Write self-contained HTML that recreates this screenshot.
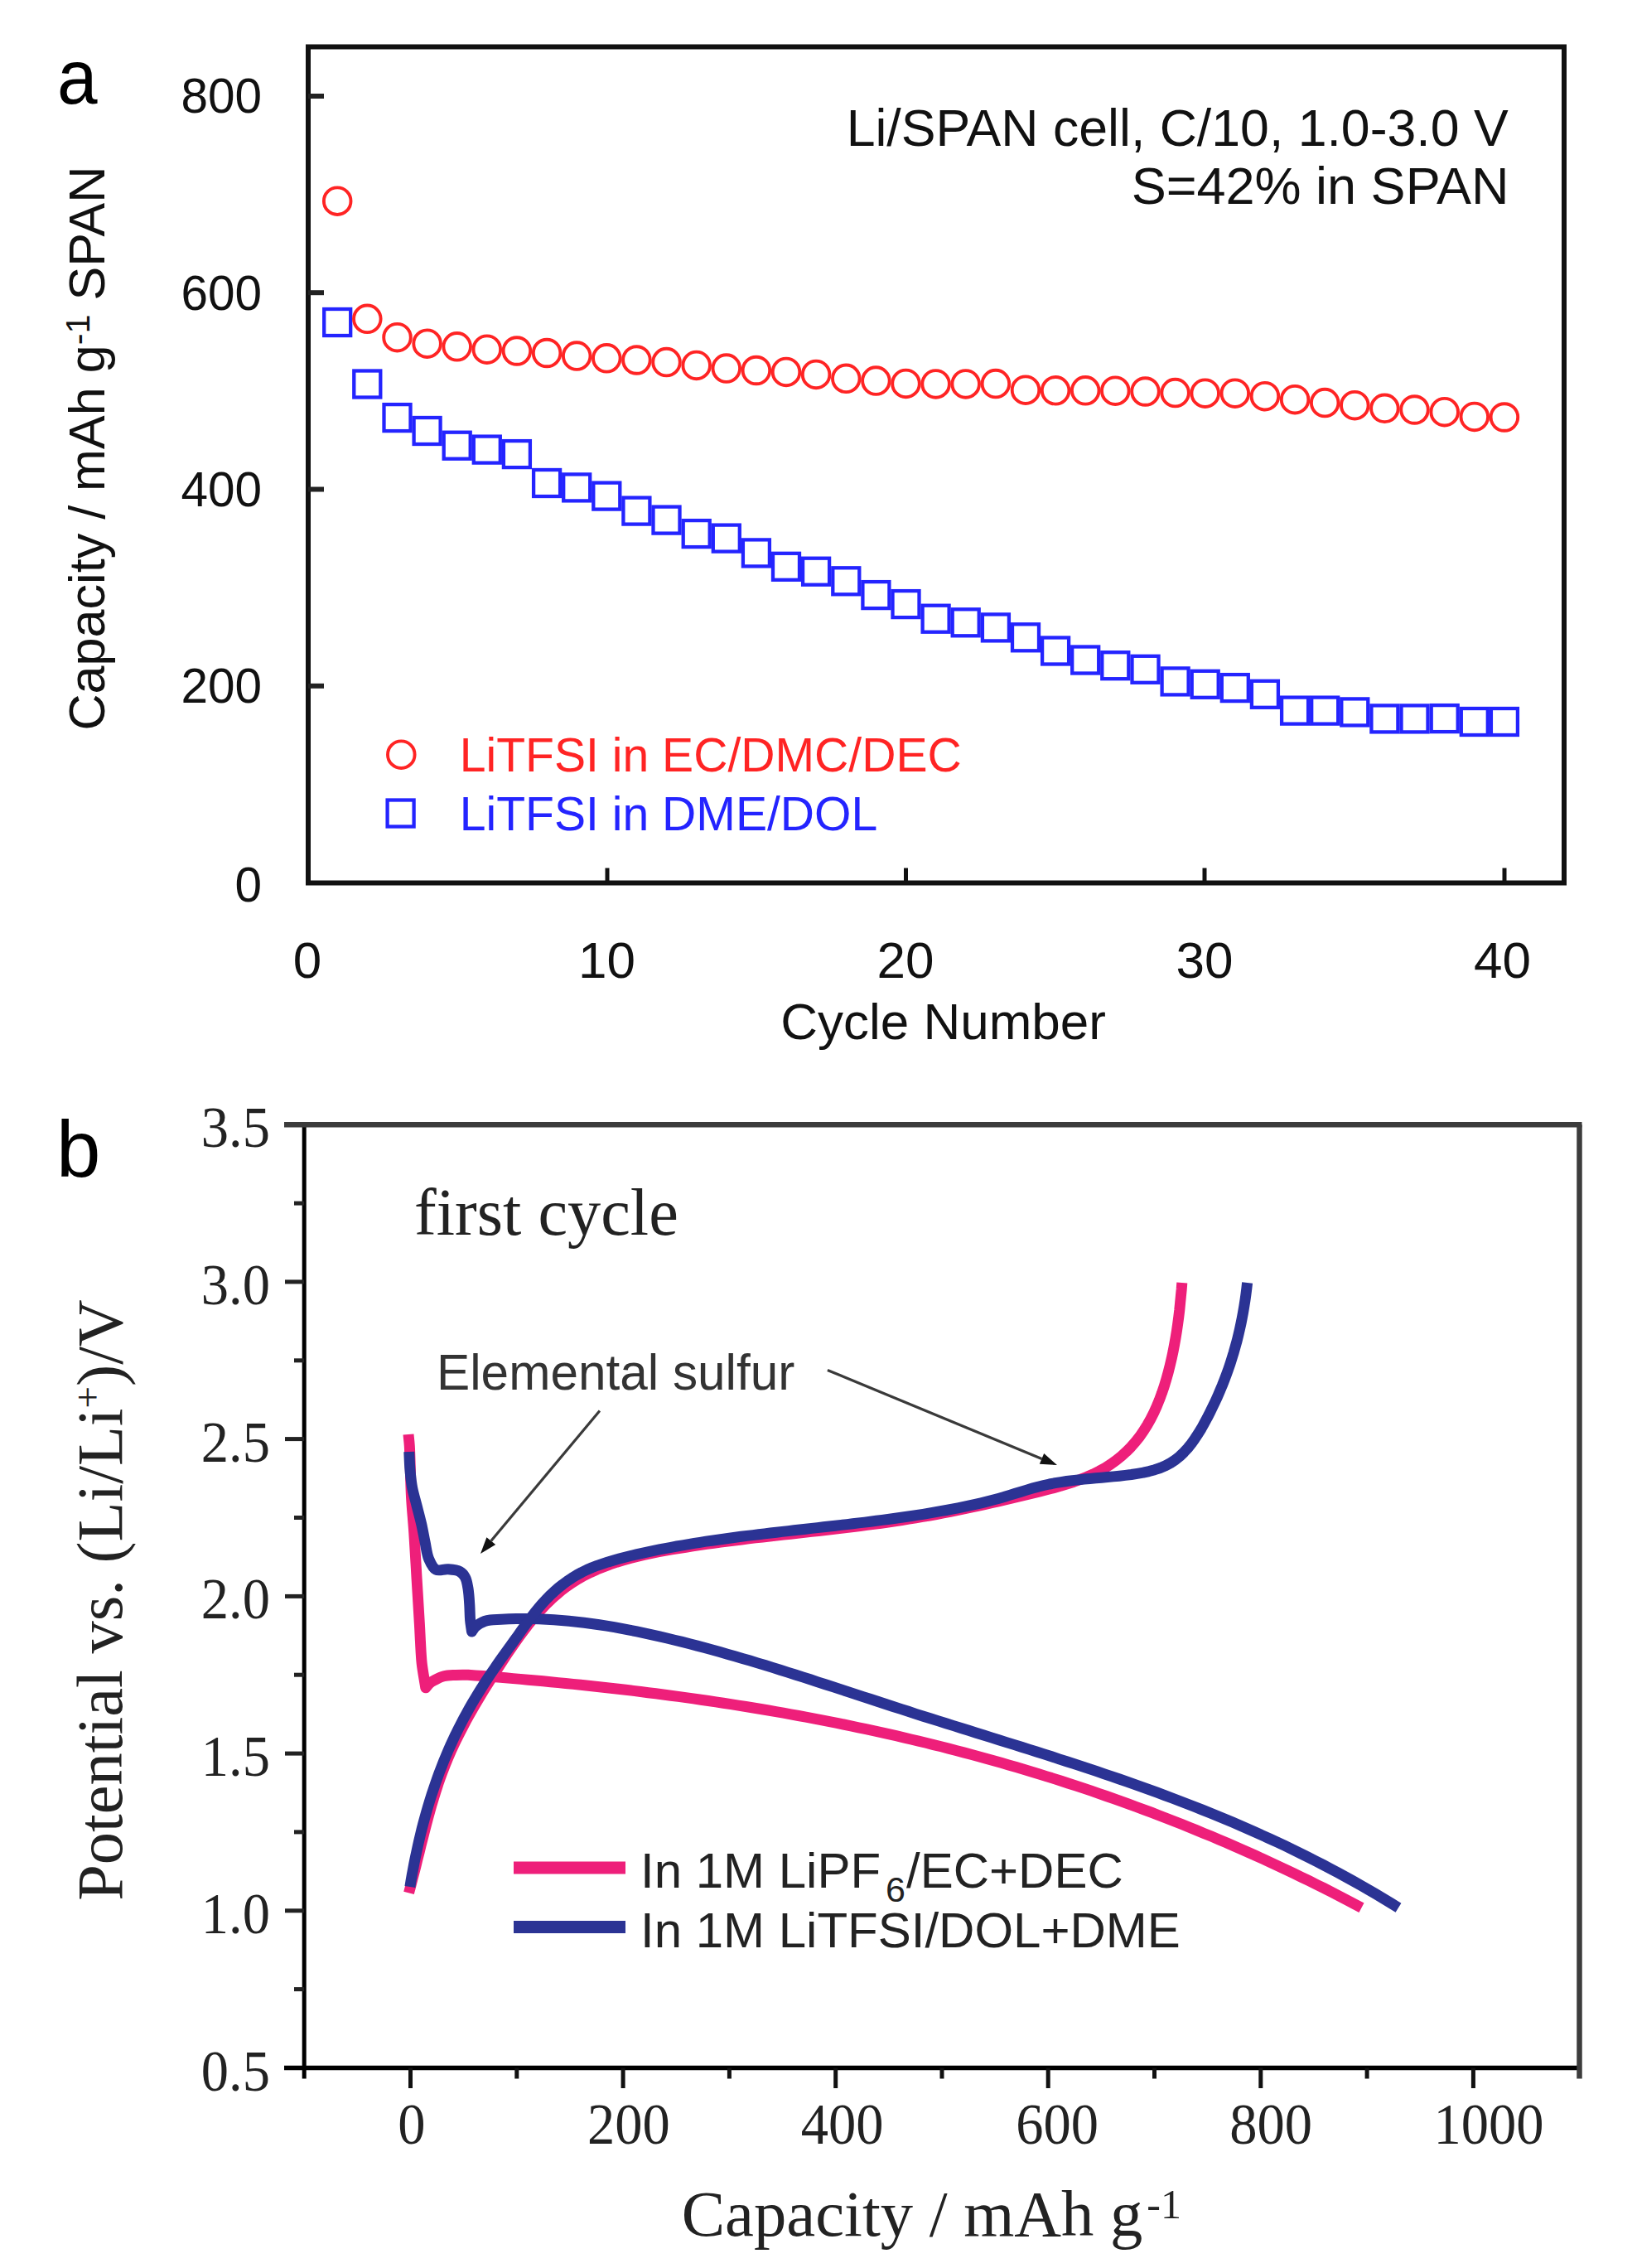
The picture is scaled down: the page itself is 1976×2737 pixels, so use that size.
<!DOCTYPE html>
<html><head><meta charset="utf-8"><title>Figure</title>
<style>
html,body{margin:0;padding:0;background:#fff;}
svg{display:block;}
</style></head>
<body>
<svg width="1976" height="2737" viewBox="0 0 1976 2737">
<rect width="1976" height="2737" fill="#fff"/>
<rect x="372" y="56.5" width="1516" height="1009.0" fill="none" stroke="#111" stroke-width="6"/>
<line x1="372" y1="827.8" x2="391" y2="827.8" stroke="#222" stroke-width="6"/>
<line x1="372" y1="590.5" x2="391" y2="590.5" stroke="#222" stroke-width="6"/>
<line x1="372" y1="353.2" x2="391" y2="353.2" stroke="#222" stroke-width="6"/>
<line x1="372" y1="116.0" x2="391" y2="116.0" stroke="#222" stroke-width="6"/>
<line x1="733" y1="1065.5" x2="733" y2="1047.5" stroke="#111" stroke-width="5"/>
<line x1="1093.5" y1="1065.5" x2="1093.5" y2="1047.5" stroke="#111" stroke-width="5"/>
<line x1="1454" y1="1065.5" x2="1454" y2="1047.5" stroke="#111" stroke-width="5"/>
<line x1="1816" y1="1065.5" x2="1816" y2="1047.5" stroke="#111" stroke-width="5"/>
<text x="316" y="135.5" text-anchor="end" font-family="'Liberation Sans', Arial, sans-serif" font-size="58.5" fill="#111">800</text>
<text x="316" y="374.0" text-anchor="end" font-family="'Liberation Sans', Arial, sans-serif" font-size="58.5" fill="#111">600</text>
<text x="316" y="610.5" text-anchor="end" font-family="'Liberation Sans', Arial, sans-serif" font-size="58.5" fill="#111">400</text>
<text x="316" y="848.0" text-anchor="end" font-family="'Liberation Sans', Arial, sans-serif" font-size="58.5" fill="#111">200</text>
<text x="316" y="1088.0" text-anchor="end" font-family="'Liberation Sans', Arial, sans-serif" font-size="58.5" fill="#111">0</text>
<text x="371" y="1179.5" text-anchor="middle" font-family="'Liberation Sans', Arial, sans-serif" font-size="62" fill="#111">0</text>
<text x="732.5" y="1179.5" text-anchor="middle" font-family="'Liberation Sans', Arial, sans-serif" font-size="62" fill="#111">10</text>
<text x="1093" y="1179.5" text-anchor="middle" font-family="'Liberation Sans', Arial, sans-serif" font-size="62" fill="#111">20</text>
<text x="1454" y="1179.5" text-anchor="middle" font-family="'Liberation Sans', Arial, sans-serif" font-size="62" fill="#111">30</text>
<text x="1813.5" y="1179.5" text-anchor="middle" font-family="'Liberation Sans', Arial, sans-serif" font-size="62" fill="#111">40</text>
<text x="942.2" y="1253.6" font-family="'Liberation Sans', Arial, sans-serif" font-size="62" fill="#111">Cycle Number</text>
<text transform="translate(125.6,881.5) rotate(-90)" x="0" y="0" font-family="'Liberation Sans', Arial, sans-serif" font-size="61.1" fill="#111">Capacity / mAh g<tspan font-size="41.5" dy="-18">-1</tspan><tspan dy="18"> SPAN</tspan></text>
<text x="1820.7" y="175.5" text-anchor="end" font-family="'Liberation Sans', Arial, sans-serif" font-size="62.6" fill="#111">Li/SPAN cell, C/10, 1.0-3.0 V</text>
<text x="1821.5" y="245.5" text-anchor="end" font-family="'Liberation Sans', Arial, sans-serif" font-size="63" fill="#111">S=42% in SPAN</text>
<text transform="translate(69,125) scale(0.95,1)" x="0" y="0" font-family="'Liberation Sans', Arial, sans-serif" font-size="92" fill="#000">a</text>
<circle cx="484.3" cy="910.7" r="16.3" fill="none" stroke="#ff2424" stroke-width="3.9"/>
<rect x="467.6" y="965.5" width="32" height="32" fill="none" stroke="#2424ff" stroke-width="4.3"/>
<text x="554.8" y="931" font-family="'Liberation Sans', Arial, sans-serif" font-size="57.1" fill="#ff2424">LiTFSI in EC/DMC/DEC</text>
<text x="554.8" y="1002" font-family="'Liberation Sans', Arial, sans-serif" font-size="57.1" fill="#2424ff">LiTFSI in DME/DOL</text>
<rect x="391.2" y="373.0" width="32" height="32" fill="none" stroke="#2424ff" stroke-width="4.3"/>
<rect x="427.3" y="447.5" width="32" height="32" fill="none" stroke="#2424ff" stroke-width="4.3"/>
<rect x="463.5" y="488.1" width="32" height="32" fill="none" stroke="#2424ff" stroke-width="4.3"/>
<rect x="499.6" y="504.0" width="32" height="32" fill="none" stroke="#2424ff" stroke-width="4.3"/>
<rect x="535.7" y="521.7" width="32" height="32" fill="none" stroke="#2424ff" stroke-width="4.3"/>
<rect x="571.8" y="526.6" width="32" height="32" fill="none" stroke="#2424ff" stroke-width="4.3"/>
<rect x="607.9" y="532.1" width="32" height="32" fill="none" stroke="#2424ff" stroke-width="4.3"/>
<rect x="644.1" y="567.0" width="32" height="32" fill="none" stroke="#2424ff" stroke-width="4.3"/>
<rect x="680.2" y="572.4" width="32" height="32" fill="none" stroke="#2424ff" stroke-width="4.3"/>
<rect x="716.3" y="582.6" width="32" height="32" fill="none" stroke="#2424ff" stroke-width="4.3"/>
<rect x="752.4" y="600.6" width="32" height="32" fill="none" stroke="#2424ff" stroke-width="4.3"/>
<rect x="788.5" y="611.6" width="32" height="32" fill="none" stroke="#2424ff" stroke-width="4.3"/>
<rect x="824.7" y="628.1" width="32" height="32" fill="none" stroke="#2424ff" stroke-width="4.3"/>
<rect x="860.8" y="633.6" width="32" height="32" fill="none" stroke="#2424ff" stroke-width="4.3"/>
<rect x="896.9" y="651.4" width="32" height="32" fill="none" stroke="#2424ff" stroke-width="4.3"/>
<rect x="933.0" y="667.8" width="32" height="32" fill="none" stroke="#2424ff" stroke-width="4.3"/>
<rect x="969.1" y="673.7" width="32" height="32" fill="none" stroke="#2424ff" stroke-width="4.3"/>
<rect x="1005.3" y="685.3" width="32" height="32" fill="none" stroke="#2424ff" stroke-width="4.3"/>
<rect x="1041.4" y="702.1" width="32" height="32" fill="none" stroke="#2424ff" stroke-width="4.3"/>
<rect x="1077.5" y="713.1" width="32" height="32" fill="none" stroke="#2424ff" stroke-width="4.3"/>
<rect x="1113.6" y="730.7" width="32" height="32" fill="none" stroke="#2424ff" stroke-width="4.3"/>
<rect x="1149.7" y="735.3" width="32" height="32" fill="none" stroke="#2424ff" stroke-width="4.3"/>
<rect x="1185.9" y="741.4" width="32" height="32" fill="none" stroke="#2424ff" stroke-width="4.3"/>
<rect x="1222.0" y="753.3" width="32" height="32" fill="none" stroke="#2424ff" stroke-width="4.3"/>
<rect x="1258.1" y="769.5" width="32" height="32" fill="none" stroke="#2424ff" stroke-width="4.3"/>
<rect x="1294.2" y="780.5" width="32" height="32" fill="none" stroke="#2424ff" stroke-width="4.3"/>
<rect x="1330.3" y="787.2" width="32" height="32" fill="none" stroke="#2424ff" stroke-width="4.3"/>
<rect x="1366.5" y="791.8" width="32" height="32" fill="none" stroke="#2424ff" stroke-width="4.3"/>
<rect x="1402.6" y="806.4" width="32" height="32" fill="none" stroke="#2424ff" stroke-width="4.3"/>
<rect x="1438.7" y="809.8" width="32" height="32" fill="none" stroke="#2424ff" stroke-width="4.3"/>
<rect x="1474.8" y="814.1" width="32" height="32" fill="none" stroke="#2424ff" stroke-width="4.3"/>
<rect x="1510.9" y="821.8" width="32" height="32" fill="none" stroke="#2424ff" stroke-width="4.3"/>
<rect x="1547.1" y="841.6" width="32" height="32" fill="none" stroke="#2424ff" stroke-width="4.3"/>
<rect x="1583.2" y="841.6" width="32" height="32" fill="none" stroke="#2424ff" stroke-width="4.3"/>
<rect x="1619.3" y="843.4" width="32" height="32" fill="none" stroke="#2424ff" stroke-width="4.3"/>
<rect x="1655.4" y="851.4" width="32" height="32" fill="none" stroke="#2424ff" stroke-width="4.3"/>
<rect x="1691.5" y="851.4" width="32" height="32" fill="none" stroke="#2424ff" stroke-width="4.3"/>
<rect x="1727.7" y="851.1" width="32" height="32" fill="none" stroke="#2424ff" stroke-width="4.3"/>
<rect x="1763.8" y="855.0" width="32" height="32" fill="none" stroke="#2424ff" stroke-width="4.3"/>
<rect x="1799.9" y="855.0" width="32" height="32" fill="none" stroke="#2424ff" stroke-width="4.3"/>
<circle cx="407.2" cy="242.7" r="16.3" fill="none" stroke="#ff2424" stroke-width="3.9"/>
<circle cx="443.3" cy="384.8" r="16.3" fill="none" stroke="#ff2424" stroke-width="3.9"/>
<circle cx="479.5" cy="407.2" r="16.3" fill="none" stroke="#ff2424" stroke-width="3.9"/>
<circle cx="515.6" cy="414.7" r="16.3" fill="none" stroke="#ff2424" stroke-width="3.9"/>
<circle cx="551.7" cy="418.3" r="16.3" fill="none" stroke="#ff2424" stroke-width="3.9"/>
<circle cx="587.8" cy="421.7" r="16.3" fill="none" stroke="#ff2424" stroke-width="3.9"/>
<circle cx="623.9" cy="423.5" r="16.3" fill="none" stroke="#ff2424" stroke-width="3.9"/>
<circle cx="660.1" cy="426.0" r="16.3" fill="none" stroke="#ff2424" stroke-width="3.9"/>
<circle cx="696.2" cy="429.6" r="16.3" fill="none" stroke="#ff2424" stroke-width="3.9"/>
<circle cx="732.3" cy="432.3" r="16.3" fill="none" stroke="#ff2424" stroke-width="3.9"/>
<circle cx="768.4" cy="434.5" r="16.3" fill="none" stroke="#ff2424" stroke-width="3.9"/>
<circle cx="804.5" cy="437.1" r="16.3" fill="none" stroke="#ff2424" stroke-width="3.9"/>
<circle cx="840.7" cy="440.9" r="16.3" fill="none" stroke="#ff2424" stroke-width="3.9"/>
<circle cx="876.8" cy="444.6" r="16.3" fill="none" stroke="#ff2424" stroke-width="3.9"/>
<circle cx="912.9" cy="447.0" r="16.3" fill="none" stroke="#ff2424" stroke-width="3.9"/>
<circle cx="949.0" cy="448.9" r="16.3" fill="none" stroke="#ff2424" stroke-width="3.9"/>
<circle cx="985.1" cy="451.9" r="16.3" fill="none" stroke="#ff2424" stroke-width="3.9"/>
<circle cx="1021.3" cy="456.8" r="16.3" fill="none" stroke="#ff2424" stroke-width="3.9"/>
<circle cx="1057.4" cy="459.6" r="16.3" fill="none" stroke="#ff2424" stroke-width="3.9"/>
<circle cx="1093.5" cy="462.9" r="16.3" fill="none" stroke="#ff2424" stroke-width="3.9"/>
<circle cx="1129.6" cy="463.4" r="16.3" fill="none" stroke="#ff2424" stroke-width="3.9"/>
<circle cx="1165.7" cy="463.4" r="16.3" fill="none" stroke="#ff2424" stroke-width="3.9"/>
<circle cx="1201.9" cy="463.1" r="16.3" fill="none" stroke="#ff2424" stroke-width="3.9"/>
<circle cx="1238.0" cy="470.7" r="16.3" fill="none" stroke="#ff2424" stroke-width="3.9"/>
<circle cx="1274.1" cy="471.3" r="16.3" fill="none" stroke="#ff2424" stroke-width="3.9"/>
<circle cx="1310.2" cy="471.3" r="16.3" fill="none" stroke="#ff2424" stroke-width="3.9"/>
<circle cx="1346.3" cy="471.7" r="16.3" fill="none" stroke="#ff2424" stroke-width="3.9"/>
<circle cx="1382.5" cy="472.5" r="16.3" fill="none" stroke="#ff2424" stroke-width="3.9"/>
<circle cx="1418.6" cy="474.1" r="16.3" fill="none" stroke="#ff2424" stroke-width="3.9"/>
<circle cx="1454.7" cy="474.7" r="16.3" fill="none" stroke="#ff2424" stroke-width="3.9"/>
<circle cx="1490.8" cy="474.7" r="16.3" fill="none" stroke="#ff2424" stroke-width="3.9"/>
<circle cx="1526.9" cy="478.2" r="16.3" fill="none" stroke="#ff2424" stroke-width="3.9"/>
<circle cx="1563.1" cy="482.2" r="16.3" fill="none" stroke="#ff2424" stroke-width="3.9"/>
<circle cx="1599.2" cy="486.1" r="16.3" fill="none" stroke="#ff2424" stroke-width="3.9"/>
<circle cx="1635.3" cy="489.2" r="16.3" fill="none" stroke="#ff2424" stroke-width="3.9"/>
<circle cx="1671.4" cy="492.8" r="16.3" fill="none" stroke="#ff2424" stroke-width="3.9"/>
<circle cx="1707.5" cy="494.5" r="16.3" fill="none" stroke="#ff2424" stroke-width="3.9"/>
<circle cx="1743.7" cy="497.2" r="16.3" fill="none" stroke="#ff2424" stroke-width="3.9"/>
<circle cx="1779.8" cy="502.9" r="16.3" fill="none" stroke="#ff2424" stroke-width="3.9"/>
<circle cx="1815.9" cy="503.5" r="16.3" fill="none" stroke="#ff2424" stroke-width="3.9"/>
<line x1="367.2" y1="1357.3" x2="367.2" y2="2508.5" stroke="#000" stroke-width="5"/>
<line x1="343" y1="2495.6" x2="1906.5" y2="2495.6" stroke="#000" stroke-width="5.5"/>
<line x1="343" y1="1357.3" x2="1909.5" y2="1357.3" stroke="#3c3c3c" stroke-width="6.5"/>
<line x1="1906.5" y1="1357.3" x2="1906.5" y2="2508.5" stroke="#3c3c3c" stroke-width="6.5"/>
<line x1="355" y1="2400.6" x2="367.2" y2="2400.6" stroke="#222" stroke-width="5"/>
<line x1="344" y1="2305.8" x2="367.2" y2="2305.8" stroke="#222" stroke-width="5"/>
<line x1="355" y1="2210.9" x2="367.2" y2="2210.9" stroke="#222" stroke-width="5"/>
<line x1="344" y1="2116.1" x2="367.2" y2="2116.1" stroke="#222" stroke-width="5"/>
<line x1="355" y1="2021.2" x2="367.2" y2="2021.2" stroke="#222" stroke-width="5"/>
<line x1="344" y1="1926.4" x2="367.2" y2="1926.4" stroke="#222" stroke-width="5"/>
<line x1="355" y1="1831.5" x2="367.2" y2="1831.5" stroke="#222" stroke-width="5"/>
<line x1="344" y1="1736.6" x2="367.2" y2="1736.6" stroke="#222" stroke-width="5"/>
<line x1="355" y1="1641.8" x2="367.2" y2="1641.8" stroke="#222" stroke-width="5"/>
<line x1="344" y1="1546.9" x2="367.2" y2="1546.9" stroke="#222" stroke-width="5"/>
<line x1="355" y1="1452.1" x2="367.2" y2="1452.1" stroke="#222" stroke-width="5"/>
<line x1="495.5" y1="2495.6" x2="495.5" y2="2520" stroke="#111" stroke-width="5"/>
<line x1="623.8" y1="2495.6" x2="623.8" y2="2508.5" stroke="#111" stroke-width="5"/>
<line x1="752.1" y1="2495.6" x2="752.1" y2="2520" stroke="#111" stroke-width="5"/>
<line x1="880.4" y1="2495.6" x2="880.4" y2="2508.5" stroke="#111" stroke-width="5"/>
<line x1="1008.7" y1="2495.6" x2="1008.7" y2="2520" stroke="#111" stroke-width="5"/>
<line x1="1137.0" y1="2495.6" x2="1137.0" y2="2508.5" stroke="#111" stroke-width="5"/>
<line x1="1265.2" y1="2495.6" x2="1265.2" y2="2520" stroke="#111" stroke-width="5"/>
<line x1="1393.5" y1="2495.6" x2="1393.5" y2="2508.5" stroke="#111" stroke-width="5"/>
<line x1="1521.8" y1="2495.6" x2="1521.8" y2="2520" stroke="#111" stroke-width="5"/>
<line x1="1650.1" y1="2495.6" x2="1650.1" y2="2508.5" stroke="#111" stroke-width="5"/>
<line x1="1778.4" y1="2495.6" x2="1778.4" y2="2520" stroke="#111" stroke-width="5"/>
<text transform="translate(326,2522.5) scale(1,1.06)" text-anchor="end" font-family="'Liberation Serif', 'Times New Roman', serif" font-size="66.5" fill="#222">0.5</text>
<text transform="translate(326,2332.8) scale(1,1.06)" text-anchor="end" font-family="'Liberation Serif', 'Times New Roman', serif" font-size="66.5" fill="#222">1.0</text>
<text transform="translate(326,2143.1) scale(1,1.06)" text-anchor="end" font-family="'Liberation Serif', 'Times New Roman', serif" font-size="66.5" fill="#222">1.5</text>
<text transform="translate(326,1953.4) scale(1,1.06)" text-anchor="end" font-family="'Liberation Serif', 'Times New Roman', serif" font-size="66.5" fill="#222">2.0</text>
<text transform="translate(326,1763.6) scale(1,1.06)" text-anchor="end" font-family="'Liberation Serif', 'Times New Roman', serif" font-size="66.5" fill="#222">2.5</text>
<text transform="translate(326,1573.9) scale(1,1.06)" text-anchor="end" font-family="'Liberation Serif', 'Times New Roman', serif" font-size="66.5" fill="#222">3.0</text>
<text transform="translate(326,1384.2) scale(1,1.06)" text-anchor="end" font-family="'Liberation Serif', 'Times New Roman', serif" font-size="66.5" fill="#222">3.5</text>
<text transform="translate(480.2,2587) scale(1,1.06)" font-family="'Liberation Serif', 'Times New Roman', serif" font-size="66.5" fill="#222">0</text>
<text transform="translate(708.9,2587) scale(1,1.06)" font-family="'Liberation Serif', 'Times New Roman', serif" font-size="66.5" fill="#222">200</text>
<text transform="translate(966.7,2587) scale(1,1.06)" font-family="'Liberation Serif', 'Times New Roman', serif" font-size="66.5" fill="#222">400</text>
<text transform="translate(1226.3,2587) scale(1,1.06)" font-family="'Liberation Serif', 'Times New Roman', serif" font-size="66.5" fill="#222">600</text>
<text transform="translate(1484.2,2587) scale(1,1.06)" font-family="'Liberation Serif', 'Times New Roman', serif" font-size="66.5" fill="#222">800</text>
<text transform="translate(1730.5,2587) scale(1,1.06)" font-family="'Liberation Serif', 'Times New Roman', serif" font-size="66.5" fill="#222">1000</text>
<text x="822.7" y="2698.2" font-family="'Liberation Serif', 'Times New Roman', serif" font-size="78.6" fill="#222">Capacity / mAh g<tspan font-size="50" dx="5" dy="-21.5">-1</tspan></text>
<text transform="translate(147,2293.8) rotate(-90)" x="0" y="0" font-family="'Liberation Serif', 'Times New Roman', serif" font-size="78.4" fill="#222">Potential vs. (Li/Li<tspan font-size="47" dy="-26">+</tspan><tspan dy="26">)/V</tspan></text>
<text x="500" y="1490.2" font-family="'Liberation Serif', 'Times New Roman', serif" font-size="80.3" fill="#222">first cycle</text>
<text x="68" y="1420" font-family="'Liberation Sans', Arial, sans-serif" font-size="96" fill="#000">b</text>
<text x="527" y="1677.2" font-family="'Liberation Sans', Arial, sans-serif" font-size="60.3" fill="#333">Elemental sulfur</text>
<path d="M493.0,1731.0 C493.4,1735.7 493.9,1738.7 494.3,1745.0 C495.1,1758.2 495.5,1787.4 496.5,1806.1 C497.4,1822.0 498.8,1834.7 499.8,1850.2 C501.0,1867.5 502.0,1886.9 503.1,1905.3 C504.2,1923.7 505.6,1946.7 506.4,1960.4 C506.9,1968.6 507.0,1972.9 507.4,1980.0 C507.9,1988.4 508.2,1998.2 509.2,2007.5 C510.3,2017.1 512.3,2027.0 513.8,2036.8 L513.8,2036.8 C515.5,2034.9 517.1,2032.6 519.0,2031.0 C520.8,2029.5 522.5,2028.8 524.8,2027.6 C527.8,2026.0 531.8,2023.8 535.8,2022.8 C540.1,2021.7 545.1,2021.7 549.9,2021.4 C554.8,2021.1 560.0,2021.3 565.0,2021.2 L574.1,2021.9 L583.1,2022.6 L592.2,2023.3 L601.3,2024.0 L610.3,2024.8 L619.4,2025.6 L628.4,2026.4 L637.5,2027.2 L646.6,2028.0 L655.6,2028.8 L664.7,2029.7 L673.8,2030.6 L682.8,2031.5 L691.9,2032.4 L700.9,2033.3 L710.0,2034.3 L719.1,2035.2 L728.1,2036.2 L737.2,2037.2 L746.3,2038.3 L755.3,2039.3 L764.4,2040.4 L773.4,2041.5 L782.5,2042.7 L791.6,2043.8 L800.6,2045.0 L809.7,2046.2 L818.8,2047.4 L827.8,2048.6 L836.9,2049.9 L846.0,2051.2 L855.0,2052.5 L864.1,2053.9 L873.1,2055.2 L882.2,2056.6 L891.3,2058.1 L900.3,2059.5 L909.4,2061.0 L918.5,2062.5 L927.5,2064.0 L936.6,2065.6 L945.6,2067.2 L954.7,2068.8 L963.8,2070.5 L972.8,2072.1 L981.9,2073.8 L991.0,2075.6 L1000.0,2077.4 L1009.1,2079.2 L1018.2,2081.0 L1027.2,2082.9 L1036.3,2084.8 L1045.3,2086.7 L1054.4,2088.6 L1063.5,2090.6 L1072.5,2092.7 L1081.6,2094.7 L1090.7,2096.8 L1099.7,2099.0 L1108.8,2101.1 L1117.8,2103.3 L1126.9,2105.6 L1136.0,2107.8 L1145.0,2110.1 L1154.1,2112.5 L1163.2,2114.9 L1172.2,2117.3 L1181.3,2119.7 L1190.3,2122.2 L1199.4,2124.8 L1208.5,2127.3 L1217.5,2129.9 L1226.6,2132.6 L1235.7,2135.3 L1244.7,2138.0 L1253.8,2140.7 L1262.9,2143.6 L1271.9,2146.4 L1281.0,2149.3 L1290.0,2152.2 L1299.1,2155.2 L1308.2,2158.2 L1317.2,2161.2 L1326.3,2164.3 L1335.4,2167.5 L1344.4,2170.7 L1353.5,2173.9 L1362.5,2177.2 L1371.6,2180.5 L1380.7,2183.8 L1389.7,2187.2 L1398.8,2190.7 L1407.9,2194.2 L1416.9,2197.7 L1426.0,2201.3 L1435.1,2205.0 L1444.1,2208.6 L1453.2,2212.4 L1462.2,2216.1 L1471.3,2220.0 L1480.4,2223.8 L1489.4,2227.8 L1498.5,2231.7 L1507.6,2235.8 L1516.6,2239.8 L1525.7,2243.9 L1534.7,2248.1 L1543.8,2252.3 L1552.9,2256.6 L1561.9,2260.9 L1571.0,2265.3 L1580.1,2269.7 L1589.1,2274.2 L1598.2,2278.7 L1607.2,2283.3 L1616.3,2288.0 L1625.4,2292.7 L1634.4,2297.4 L1643.5,2302.2" fill="none" stroke="#ee1f7a" stroke-width="13" stroke-linejoin="round"/>
<path d="M493.5,2284.4 L495.7,2276.3 L497.8,2268.2 L499.9,2260.1 L502.0,2251.9 L504.0,2243.6 L506.1,2235.4 L508.1,2227.1 L510.2,2218.8 L512.3,2210.6 L514.4,2202.3 L516.6,2194.0 L518.9,2185.8 L521.2,2177.6 L523.7,2169.4 L526.2,2161.3 L528.8,2153.2 L531.6,2145.2 L534.5,2137.3 L537.6,2129.4 L540.8,2121.6 L544.1,2113.9 L547.6,2106.3 L551.2,2098.7 L555.0,2091.2 L558.9,2083.7 L562.8,2076.3 L566.9,2068.9 L571.1,2061.6 L575.4,2054.3 L579.7,2047.0 L584.1,2039.7 L588.6,2032.5 L593.2,2025.3 L597.8,2018.1 L602.5,2010.9 L607.2,2003.7 L611.9,1996.5 L616.8,1989.3 L621.7,1982.2 L626.7,1975.2 L631.8,1968.3 L637.0,1961.5 L642.3,1954.9 L647.8,1948.4 L653.4,1942.2 L659.2,1936.1 L665.2,1930.3 L671.4,1924.7 L677.7,1919.3 L684.3,1914.3 L691.2,1909.6 L698.2,1905.3 L705.5,1901.2 L713.0,1897.5 L720.6,1894.0 L728.5,1890.9 L736.4,1887.9 L744.5,1885.2 L752.6,1882.8 L760.8,1880.5 L769.0,1878.4 L777.3,1876.4 L785.7,1874.6 L794.0,1872.9 L802.4,1871.4 L810.8,1869.9 L819.2,1868.5 L827.7,1867.2 L836.1,1865.9 L844.5,1864.6 L853.0,1863.4 L861.4,1862.3 L869.8,1861.1 L878.3,1860.0 L886.7,1859.0 L895.1,1858.0 L903.6,1856.9 L912.0,1855.9 L920.5,1855.0 L928.9,1854.0 L937.3,1853.1 L945.8,1852.1 L954.2,1851.2 L962.6,1850.3 L971.1,1849.3 L979.5,1848.4 L987.9,1847.5 L996.3,1846.5 L1004.7,1845.5 L1013.1,1844.6 L1021.5,1843.6 L1030.0,1842.5 L1038.3,1841.5 L1046.7,1840.4 L1055.1,1839.3 L1063.5,1838.2 L1071.9,1837.0 L1080.2,1835.8 L1088.6,1834.5 L1097.0,1833.2 L1105.3,1831.8 L1113.6,1830.4 L1122.0,1829.0 L1130.3,1827.5 L1138.6,1825.9 L1146.9,1824.3 L1155.2,1822.6 L1163.6,1820.9 L1171.9,1819.2 L1180.2,1817.4 L1188.5,1815.6 L1196.8,1813.7 L1205.1,1811.8 L1213.4,1809.9 L1221.8,1808.0 L1230.1,1806.0 L1238.5,1804.0 L1246.8,1801.9 L1255.2,1799.9 L1263.5,1797.8 L1271.8,1795.6 L1280.1,1793.3 L1288.3,1790.8 L1296.3,1788.2 L1304.2,1785.4 L1312.0,1782.3 L1319.5,1779.0 L1326.9,1775.3 L1334.0,1771.4 L1340.8,1767.0 L1347.4,1762.3 L1353.6,1757.3 L1359.6,1751.8 L1365.3,1746.1 L1370.6,1740.0 L1375.7,1733.6 L1380.4,1726.8 L1384.8,1719.8 L1388.9,1712.5 L1392.7,1705.0 L1396.2,1697.3 L1399.4,1689.4 L1402.4,1681.3 L1405.2,1673.1 L1407.7,1664.8 L1410.1,1656.4 L1412.2,1648.0 L1414.2,1639.6 L1416.0,1631.2 L1417.6,1622.7 L1419.1,1614.3 L1420.5,1605.8 L1421.7,1597.4 L1422.8,1589.1 L1423.8,1580.7 L1424.6,1572.4 L1425.4,1564.2 L1426.2,1556.1 L1426.8,1548.0" fill="none" stroke="#ee1f7a" stroke-width="13" stroke-linejoin="round"/>
<path d="M493.8,1752.0 C494.2,1759.0 494.3,1765.9 494.9,1773.0 C495.5,1780.3 496.2,1787.8 497.6,1795.1 C499.0,1802.5 501.3,1809.8 503.1,1817.1 C505.0,1824.5 507.0,1831.8 508.7,1839.2 C510.4,1846.5 511.6,1854.1 513.1,1861.2 C514.5,1868.0 515.1,1875.2 517.5,1881.0 C519.7,1886.1 522.3,1892.3 526.3,1894.3 C530.1,1896.2 535.9,1893.3 540.6,1893.7 C545.4,1894.1 551.3,1894.5 554.9,1896.5 C557.9,1898.1 559.9,1900.5 561.5,1903.5 C563.5,1907.1 564.1,1912.0 565.0,1917.0 C566.0,1923.0 566.4,1930.5 566.8,1937.0 C567.2,1943.2 567.1,1949.4 567.6,1955.0 C568.0,1960.0 568.9,1964.3 569.5,1969.0 L569.5,1969.0 C571.0,1967.0 572.3,1964.7 574.0,1963.0 C575.6,1961.5 577.4,1960.4 579.2,1959.3 C581.0,1958.2 582.9,1957.2 585.0,1956.5 C587.2,1955.8 589.3,1955.4 592.0,1955.0 C595.7,1954.5 600.7,1954.5 605.0,1954.2 L614.1,1953.8 L623.2,1953.6 L632.3,1953.5 L641.4,1953.6 L650.5,1953.8 L659.6,1954.2 L668.7,1954.8 L677.8,1955.5 L686.9,1956.3 L696.0,1957.2 L705.1,1958.3 L714.2,1959.5 L723.3,1960.8 L732.4,1962.2 L741.5,1963.7 L750.6,1965.4 L759.7,1967.1 L768.8,1968.9 L777.9,1970.8 L787.0,1972.8 L796.1,1974.8 L805.2,1977.0 L814.3,1979.2 L823.4,1981.4 L832.5,1983.8 L841.6,1986.1 L850.7,1988.6 L859.8,1991.0 L868.9,1993.6 L878.0,1996.2 L887.1,1998.8 L896.2,2001.4 L905.3,2004.1 L914.4,2006.9 L923.5,2009.6 L932.6,2012.4 L941.7,2015.3 L950.8,2018.1 L959.9,2021.0 L969.0,2023.9 L978.1,2026.8 L987.2,2029.8 L996.3,2032.7 L1005.4,2035.7 L1014.5,2038.6 L1023.6,2041.6 L1032.7,2044.6 L1041.8,2047.6 L1050.9,2050.5 L1060.0,2053.5 L1069.1,2056.5 L1078.2,2059.5 L1087.3,2062.4 L1096.4,2065.3 L1105.5,2068.3 L1114.6,2071.2 L1123.7,2074.0 L1132.8,2076.9 L1141.9,2079.8 L1151.1,2082.6 L1160.2,2085.5 L1169.3,2088.3 L1178.4,2091.2 L1187.5,2094.0 L1196.6,2096.9 L1205.7,2099.7 L1214.8,2102.6 L1223.9,2105.4 L1233.0,2108.3 L1242.1,2111.1 L1251.2,2114.0 L1260.3,2116.9 L1269.4,2119.8 L1278.5,2122.8 L1287.6,2125.7 L1296.7,2128.7 L1305.8,2131.7 L1314.9,2134.7 L1324.0,2137.7 L1333.1,2140.8 L1342.2,2143.9 L1351.3,2147.0 L1360.4,2150.2 L1369.5,2153.4 L1378.6,2156.6 L1387.7,2159.9 L1396.8,2163.2 L1405.9,2166.6 L1415.0,2170.0 L1424.1,2173.5 L1433.2,2177.0 L1442.3,2180.5 L1451.4,2184.1 L1460.5,2187.8 L1469.6,2191.5 L1478.7,2195.3 L1487.8,2199.1 L1496.9,2203.0 L1506.0,2207.0 L1515.1,2211.0 L1524.2,2215.1 L1533.3,2219.2 L1542.4,2223.4 L1551.5,2227.7 L1560.6,2232.1 L1569.7,2236.6 L1578.8,2241.1 L1587.9,2245.7 L1597.0,2250.4 L1606.1,2255.2 L1615.2,2260.0 L1624.3,2265.0 L1633.4,2270.0 L1642.5,2275.1 L1651.6,2280.4 L1660.7,2285.7 L1669.8,2291.1 L1678.9,2296.6 L1688.0,2302.2" fill="none" stroke="#2b3394" stroke-width="13" stroke-linejoin="round"/>
<path d="M494.9,2277.0 L496.0,2270.1 L497.2,2263.1 L498.5,2256.2 L499.8,2249.2 L501.2,2242.2 L502.7,2235.3 L504.2,2228.3 L505.8,2221.3 L507.4,2214.4 L509.1,2207.4 L510.9,2200.5 L512.8,2193.6 L514.7,2186.7 L516.7,2179.8 L518.8,2172.9 L520.9,2166.1 L523.2,2159.3 L525.5,2152.5 L527.9,2145.7 L530.3,2139.0 L532.9,2132.3 L535.5,2125.7 L538.2,2119.1 L541.0,2112.5 L543.9,2106.0 L546.9,2099.5 L549.9,2093.1 L553.1,2086.7 L556.3,2080.4 L559.6,2074.1 L563.0,2067.9 L566.4,2061.7 L569.9,2055.6 L573.5,2049.5 L577.2,2043.5 L580.9,2037.5 L584.7,2031.6 L588.5,2025.7 L592.4,2019.9 L596.4,2014.1 L600.4,2008.3 L604.4,2002.6 L608.5,1996.9 L612.5,1991.2 L616.6,1985.6 L620.7,1979.9 L624.8,1974.2 L628.8,1968.5 L632.9,1962.8 L637.0,1957.2 L641.2,1951.6 L645.4,1946.2 L649.8,1940.8 L654.3,1935.6 L658.9,1930.5 L663.7,1925.6 L668.7,1920.9 L673.8,1916.4 L679.2,1912.1 L684.6,1908.1 L690.3,1904.3 L696.1,1900.8 L702.1,1897.5 L708.2,1894.5 L714.5,1891.8 L720.9,1889.3 L727.4,1887.1 L734.0,1884.9 L740.7,1882.9 L747.5,1881.0 L754.3,1879.2 L761.2,1877.5 L768.1,1875.9 L775.1,1874.3 L782.0,1872.8 L789.0,1871.3 L796.0,1869.9 L803.0,1868.6 L810.0,1867.3 L817.0,1866.0 L824.0,1864.8 L831.1,1863.6 L838.1,1862.4 L845.1,1861.3 L852.2,1860.2 L859.2,1859.2 L866.3,1858.2 L873.4,1857.2 L880.4,1856.2 L887.5,1855.3 L894.6,1854.3 L901.7,1853.4 L908.8,1852.6 L915.8,1851.7 L922.9,1850.9 L930.0,1850.0 L937.1,1849.2 L944.2,1848.4 L951.3,1847.6 L958.4,1846.8 L965.5,1846.0 L972.6,1845.2 L979.7,1844.4 L986.8,1843.6 L993.9,1842.8 L1001.0,1842.0 L1008.1,1841.2 L1015.2,1840.4 L1022.3,1839.6 L1029.4,1838.8 L1036.5,1837.9 L1043.6,1837.1 L1050.7,1836.2 L1057.8,1835.3 L1064.8,1834.4 L1071.9,1833.5 L1079.0,1832.5 L1086.1,1831.5 L1093.1,1830.5 L1100.2,1829.5 L1107.2,1828.4 L1114.2,1827.3 L1121.3,1826.1 L1128.3,1824.9 L1135.3,1823.7 L1142.3,1822.5 L1149.3,1821.2 L1156.3,1819.8 L1163.3,1818.4 L1170.3,1816.9 L1177.3,1815.4 L1184.2,1813.8 L1191.1,1812.1 L1198.1,1810.3 L1205.0,1808.4 L1211.9,1806.5 L1218.7,1804.4 L1225.6,1802.3 L1232.5,1800.2 L1239.3,1798.1 L1246.2,1796.1 L1253.0,1794.2 L1259.9,1792.5 L1266.8,1791.0 L1273.7,1789.7 L1280.6,1788.6 L1287.6,1787.5 L1294.5,1786.6 L1301.5,1785.9 L1308.5,1785.1 L1315.6,1784.5 L1322.6,1783.8 L1329.7,1783.2 L1336.8,1782.6 L1344.0,1781.9 L1351.1,1781.2 L1358.3,1780.4 L1365.6,1779.5 L1372.8,1778.4 L1380.0,1777.2 L1387.0,1775.6 L1393.9,1773.7 L1400.5,1771.5 L1406.9,1768.8 L1413.0,1765.5 L1418.7,1761.8 L1424.0,1757.5 L1429.0,1752.7 L1433.7,1747.6 L1438.2,1742.0 L1442.3,1736.2 L1446.3,1730.2 L1450.1,1724.0 L1453.6,1717.6 L1457.1,1711.2 L1460.4,1704.7 L1463.6,1698.2 L1466.7,1691.7 L1469.7,1685.2 L1472.5,1678.6 L1475.3,1672.0 L1477.9,1665.4 L1480.4,1658.7 L1482.8,1652.1 L1485.1,1645.4 L1487.2,1638.6 L1489.3,1631.8 L1491.2,1625.0 L1493.1,1618.2 L1494.8,1611.3 L1496.4,1604.4 L1497.9,1597.5 L1499.3,1590.5 L1500.6,1583.5 L1501.8,1576.5 L1502.9,1569.4 L1503.9,1562.3 L1504.8,1555.2 L1505.6,1548.0" fill="none" stroke="#2b3394" stroke-width="13" stroke-linejoin="round"/>
<line x1="723.9" y1="1702.4" x2="592.8" y2="1859.6" stroke="#3a3a3a" stroke-width="3.2"/>
<polygon points="580.0,1875.0 587.4,1855.2 598.2,1864.1" fill="#111"/>
<line x1="998.9" y1="1653.4" x2="1257.5" y2="1760.4" stroke="#3a3a3a" stroke-width="3.2"/>
<polygon points="1276.0,1768.0 1254.8,1766.8 1260.2,1753.9" fill="#111"/>
<line x1="620" y1="2254" x2="755" y2="2254" stroke="#ee1f7a" stroke-width="15"/>
<line x1="620" y1="2325.5" x2="755" y2="2325.5" stroke="#2b3394" stroke-width="15"/>
<text x="773" y="2278" font-family="'Liberation Sans', Arial, sans-serif" font-size="60" fill="#222">In 1M LiPF<tspan font-size="43" dx="6" dy="16.5">6</tspan><tspan dx="1" dy="-16.5">/EC+DEC</tspan></text>
<text x="773" y="2349.7" font-family="'Liberation Sans', Arial, sans-serif" font-size="60" fill="#222">In 1M LiTFSI/DOL+DME</text>
</svg>
</body></html>
